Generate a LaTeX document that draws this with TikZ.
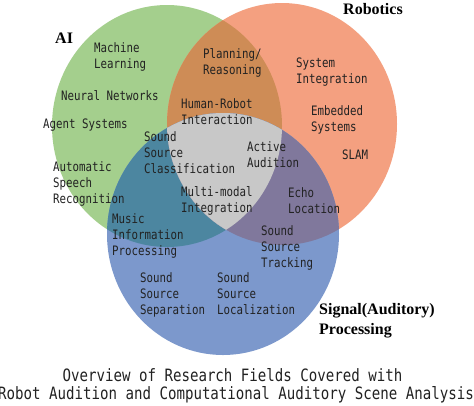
\documentclass[tikz,border=0pt]{standalone}
\usepackage{fontspec}
\newfontfamily\jfont[FakeStretch=0.83]{DejaVu Sans Mono}
\newfontfamily\bfserif{Liberation Serif}
\definecolor{cG}{HTML}{A4CF8D}
\definecolor{cO}{HTML}{F4A080}
\definecolor{cB}{HTML}{7C98CC}
\definecolor{cGO}{HTML}{CE8C56}
\definecolor{cGB}{HTML}{4C86A0}
\definecolor{cOB}{HTML}{80789C}
\definecolor{cGOB}{HTML}{C8C8C8}
\definecolor{txt}{HTML}{222222}
\begin{document}
\begin{tikzpicture}[x=1pt,y=-1pt,
  lbl/.style={font=\jfont\fontsize{13}{16}\selectfont, align=left, anchor=base west, inner sep=0pt, text=txt},
  head/.style={font=\bfserif\bfseries\fontsize{16}{20}\selectfont, align=left, anchor=base west, inner sep=0pt, text=black},
  captext/.style={font=\jfont\fontsize{17}{18}\selectfont, anchor=base, inner sep=0pt, text=txt}]
\useasboundingbox (0,0) rectangle (474,405);
\fill[white] (0,0) rectangle (474,405);
\def\gpath{(167,126) ellipse [x radius=115pt, y radius=121pt]}
\def\opath{(282,124) ellipse [x radius=115pt, y radius=121pt]}
\def\bpath{(223,234) ellipse [x radius=116pt, y radius=121pt]}
\fill[cG] \gpath;
\fill[cO] \opath;
\fill[cB] \bpath;
\begin{scope}
  \clip \gpath;
  \fill[cGO] \opath;
  \fill[cGB] \bpath;
  \clip \opath;
  \fill[cGOB] \bpath;
\end{scope}
\begin{scope}
  \clip \opath;
  \clip \bpath;
  \fill[cOB] (0,0) rectangle (474,405);
  \clip \gpath;
  \fill[cGOB] (0,0) rectangle (474,405);
\end{scope}
% headings (anchor = baseline of last line)
\node[head] (ai) at (55,43) {AI};
\node[head] (rob) at (343,14.5) {Robotics};
\node[head] (sig) at (319,334) {Signal(Auditory)\\Processing};
% labels (anchor = baseline of last line)
\node[lbl] (ml) at (94,68.5) {Machine\\Learning};
\node[lbl] (nn) at (61,100.5) {Neural Networks};
\node[lbl] (as) at (43,128.5) {Agent Systems};
\node[lbl] (ssc) at (144,173.5) {Sound\\Source\\Classification};
\node[lbl] (asr) at (53,203.5) {Automatic\\Speech\\Recognition};
\node[lbl] (pr) at (203,74.5) {Planning/\\Reasoning};
\node[lbl] (hri) at (181,124.5) {Human-Robot\\Interaction};
\node[lbl] (si) at (296,83.5) {System\\Integration};
\node[lbl] (es) at (311,131.5) {Embedded\\Systems};
\node[lbl] (slam) at (342,159.5) {SLAM};
\node[lbl] (aa) at (247,167.5) {Active\\Audition};
\node[lbl] (mmi) at (181,212.5) {Multi-modal\\Integration};
\node[lbl] (el) at (288,213.5) {Echo\\Location};
\node[lbl] (mip) at (112,255.5) {Music\\Information\\Processing};
\node[lbl] (sst) at (261,267.5) {Sound\\Source\\Tracking};
\node[lbl] (sss) at (140,314.5) {Sound\\Source\\Separation};
\node[lbl] (ssl) at (217,314.5) {Sound\\Source\\Localization};
% caption
\node[captext] (c1) at (232.5,381) {Overview of Research Fields Covered with};
\node[captext] (c2) at (236,399) {Robot Audition and Computational Auditory Scene Analysis};
\end{tikzpicture}
\end{document}
